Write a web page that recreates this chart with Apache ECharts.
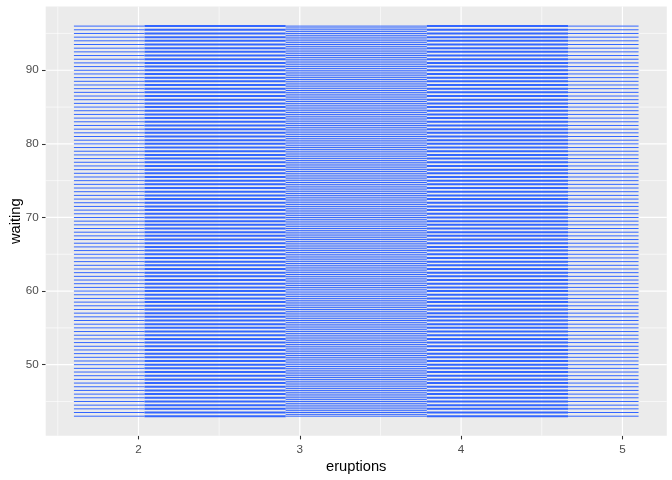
<!DOCTYPE html>
<html>
<head>
<meta charset="utf-8">
<script src="https://cdn.jsdelivr.net/npm/echarts@6/dist/echarts.min.js"></script>
<style>
html,body{margin:0;padding:0;background:#fff;}
#c{width:672px;height:480px;}
</style>
</head>
<body>
<div id="c"></div>
<script>
// ---- data ----
const colStart = [1.6, 2.0375, 2.9125, 3.7875, 4.6625];
const colEnd   = [2.0375, 2.9125, 3.7875, 4.6625, 5.1];
const colLow   = [43, 43, 43, 43, 43];
const colHigh  = [96, 96, 96, 96, 96];
const xTicks = [2, 3, 4, 5];
const xMinorTicks = [1.5, 2.5, 3.5, 4.5];
const yTicks = [50, 60, 70, 80, 90];
const yMinorTicks = [45, 55, 65, 75, 85, 95];

// ---- styles ----
const hatchStep  = [0.5, 0.5, 0.25, 0.5, 0.5];
const hatchWidth = [1, 2, 1, 2, 1];
const BLUE = '#3366FF';
const FONT = 'Liberation Sans, Arial, sans-serif';

const cells = colStart.map((s, i) => [s, colEnd[i], colLow[i], colHigh[i], i]);
const gridData = []
  .concat(xMinorTicks.map(v => [v, 0, 0]))
  .concat(yMinorTicks.map(v => [v, 1, 0]))
  .concat(xTicks.map(v => [v, 0, 1]))
  .concat(yTicks.map(v => [v, 1, 1]));

const chart = echarts.init(document.getElementById('c'), null, {renderer: 'canvas'});
chart.setOption({
  animation: false,
  backgroundColor: '#FFFFFF',
  grid: {left: 45.7, right: 5.2, top: 6.6, bottom: 44.3, show: true, backgroundColor: '#EBEBEB', borderWidth: 0,
         containLabel: false, outerBoundsMode: 'none'},
  xAxis: {
    type: 'value', min: 1.425, max: 5.275,
    name: 'eruptions', nameLocation: 'middle', nameGap: 24, nameMoveOverlap: false,
    nameTextStyle: {color: '#000', fontSize: 14.7, fontFamily: FONT},
    axisLine: {show: false},
    axisTick: {show: true, customValues: xTicks, length: 3.7, lineStyle: {color: '#333333', width: 1.07}},
    axisLabel: {customValues: xTicks, color: '#4D4D4D', fontSize: 11.7, fontFamily: FONT, margin: 8},
    splitLine: {show: false}
  },
  yAxis: {
    type: 'value', min: 40.35, max: 98.65,
    name: 'waiting', nameLocation: 'middle', nameGap: 22, nameRotate: 90, nameMoveOverlap: false,
    nameTextStyle: {color: '#000', fontSize: 14.7, fontFamily: FONT},
    axisLine: {show: false},
    axisTick: {show: true, customValues: yTicks, length: 3.7, lineStyle: {color: '#333333', width: 1.07}},
    axisLabel: {customValues: yTicks, color: '#4D4D4D', fontSize: 11.7, fontFamily: FONT, margin: 7},
    splitLine: {show: false}
  },
  series: [
    {
      type: 'custom', silent: true, z: 1,
      data: gridData,
      encode: {x: 0, y: 0},
      renderItem: function (params, api) {
        const v = api.value(0), dir = api.value(1), major = api.value(2);
        const cs = params.coordSys;
        let shape;
        if (dir === 0) {
          const px = api.coord([v, 60])[0];
          shape = {x1: px, y1: cs.y, x2: px, y2: cs.y + cs.height};
        } else {
          const py = api.coord([3, v])[1];
          shape = {x1: cs.x, y1: py, x2: cs.x + cs.width, y2: py};
        }
        return {type: 'line', shape: shape, style: {stroke: '#FFFFFF', lineWidth: major ? 1.2 : 0.6}};
      }
    },
    {
      type: 'custom', silent: true, z: 2,
      data: cells,
      encode: {x: [0, 1], y: [2, 3]},
      renderItem: function (params, api) {
        const x0 = api.value(0), x1 = api.value(1), lo = api.value(2), hi = api.value(3), idx = api.value(4);
        const step = hatchStep[idx], w = hatchWidth[idx];
        const children = [];
        const n = Math.round((hi - lo) / step);
        for (let k = 0; k <= n; k++) {
          const y = lo + k * step;
          const a = api.coord([x0, y]), b = api.coord([x1, y]);
          children.push({type: 'line', shape: {x1: a[0], y1: a[1], x2: b[0], y2: b[1]},
            style: {stroke: BLUE, lineWidth: w, lineCap: 'butt'}});
        }
        return {type: 'group', children: children};
      }
    }
  ]
});
</script>
</body>
</html>
